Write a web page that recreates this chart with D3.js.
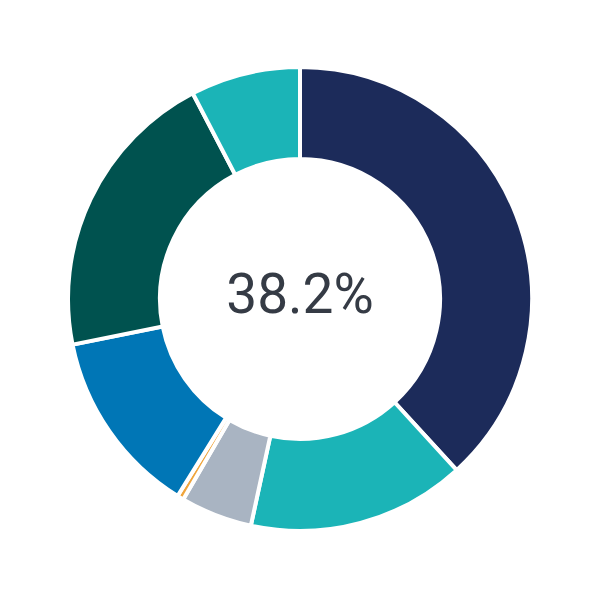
<!DOCTYPE html>
<html>
<head>
<meta charset="utf-8">
<script src="https://cdn.jsdelivr.net/npm/d3@7"></script>
<style>
  body { margin: 0; background: #fff; }
</style>
</head>
<body>
<div id="chart"></div>
<script>
const width = 600;
const height = 600;

// slices, clockwise from 12 o'clock
const categories = ["A", "B", "C", "D", "E", "F", "G"];
const values = [38.2, 15.2, 5.0, 0.45, 13.0, 20.5, 7.65];
const colors = ["#1c2b5a", "#1bb4b7", "#a9b4c2", "#f0a53c", "#0076b6", "#00524f", "#1bb4b7"];
const centerLabel = "38.2%";

const svg = d3.select("#chart")
  .append("svg")
  .attr("width", width)
  .attr("height", height);

const g = svg.append("g")
  .attr("transform", "translate(300,299)");

const color = d3.scaleOrdinal()
  .domain(categories)
  .range(colors);

const pie = d3.pie()
  .sort(null)
  .value(d => d.value);

const arc = d3.arc()
  .innerRadius(140)
  .outerRadius(232);

const data = categories.map((c, i) => ({ name: c, value: values[i] }));

g.selectAll("path")
  .data(pie(data))
  .join("path")
  .attr("d", arc)
  .attr("fill", d => color(d.data.name))
  .attr("stroke", "#fff")
  .attr("stroke-width", 4);

g.append("text")
  .attr("text-anchor", "middle")
  .attr("y", 14)
  .attr("font-family", "Roboto, Arial, sans-serif")
  .attr("font-size", 55)
  .attr("fill", "#353b45")
  .text(centerLabel);
</script>
</body>
</html>
